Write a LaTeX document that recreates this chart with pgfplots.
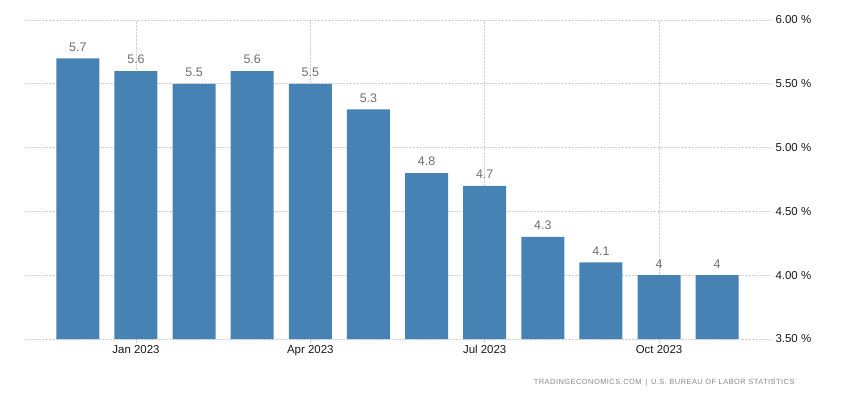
\documentclass[border=0pt]{standalone}
\usepackage{pgfplots}
\pgfplotsset{compat=1.18}
\usepackage{fontspec}
\setmainfont{Liberation Sans}
\definecolor{barblue}{HTML}{4682B4}
\definecolor{gridgray}{HTML}{D2D2D2}
\definecolor{labgray}{HTML}{6E6E6E}
\definecolor{srcgray}{HTML}{8A8590}
\begin{document}
\begin{tikzpicture}[x=1bp,y=1bp]
\path[use as bounding box] (0,0) rectangle (850,400);
\begin{axis}[
  at={(25bp,61bp)}, anchor=south west,
  scale only axis, width=745bp, height=319bp,
  ybar, bar width=0.74, bar shift=0pt,
  xmin=-0.91, xmax=11.91, ymin=3.5, ymax=6.0,
  axis line style={draw=none},
  yticklabel pos=right,
  ytick={3.5,4,4.5,5,5.5,6},
  yticklabels={3.50 \%,4.00 \%,4.50 \%,5.00 \%,5.50 \%,6.00 \%},
  yticklabel style={font=\fontsize{11.5}{12}\selectfont, text=black!90, anchor=west, xshift=-2bp},
  xtick={1,4,7,10},
  xticklabels={Jan 2023,Apr 2023,Jul 2023,Oct 2023},
  xticklabel style={font=\fontsize{11.5}{12}\selectfont, text=black!90, yshift=1bp},
  xtick pos=bottom, ytick pos=right,
  ytick style={draw=none},
  xtick style={draw=gridgray, line width=0.8bp},
  tick align=outside, major tick length=4bp,
  ymajorgrids, xmajorgrids,
  major grid style={gridgray, densely dotted, line width=0.7bp},
  nodes near coords,
  every node near coord/.append style={font=\fontsize{12.5}{13}\selectfont, text=labgray, yshift=3.5bp},
  point meta=explicit symbolic,
  clip=true,
]
\addplot[fill=barblue, draw=none] coordinates {
(0,5.7)[5.7] (1,5.6)[5.6] (2,5.5)[5.5] (3,5.6)[5.6] (4,5.5)[5.5] (5,5.3)[5.3]
(6,4.8)[4.8] (7,4.7)[4.7] (8,4.3)[4.3] (9,4.1)[4.1] (10,4.0)[4] (11,4.0)[4]
};
\end{axis}
\node[anchor=east, font=\fontsize{7.5}{9}\addfontfeatures{LetterSpace=6}\selectfont, text=srcgray] at (798,17) {TRADINGECONOMICS.COM \,|\, U.S. BUREAU OF LABOR STATISTICS};
\end{tikzpicture}
\end{document}
